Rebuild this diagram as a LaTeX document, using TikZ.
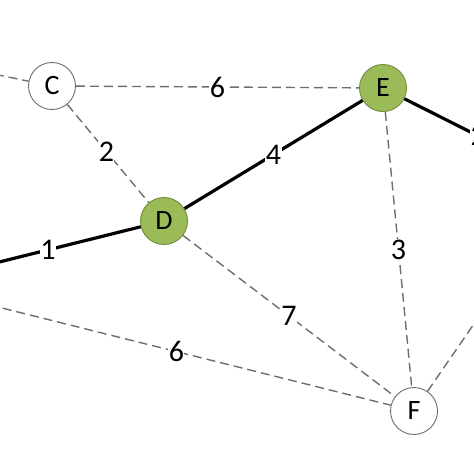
\documentclass[tikz,border=0pt]{standalone}
\usepackage{fontspec}
\setmainfont{Carlito}
\definecolor{grn}{HTML}{9BBB59}
\definecolor{grnb}{HTML}{6F8A3B}
\definecolor{dgray}{HTML}{6E6E6E}
\begin{document}
\begin{tikzpicture}[x=1pt,y=-1pt,
  vtx/.style={circle,draw=dgray,line width=0.9pt,fill=white,minimum size=47pt,inner sep=0pt,font=\fontsize{28}{28}\selectfont},
  sel/.style={vtx,fill=grn,draw=grnb},
  tree/.style={line width=3.2pt,black},
  other/.style={dgray,line width=1.4pt,dash pattern=on 9pt off 5pt},
  wt/.style={fill=white,inner sep=0.5pt,font=\fontsize{30}{30}\selectfont,text=black}]
\useasboundingbox (0,0) rectangle (474,474);
\node[vtx] (C) at (52,86) {C};
\node[sel] (E) at (383,88) {E};
\node[sel] (D) at (164,221) {D};
\node[vtx] (F) at (414,411) {F};
\coordinate (cl) at (-60,63);
\coordinate (er) at (552,173);
\coordinate (dl) at (-45,273);
\coordinate (fl) at (-38,298);
\coordinate (fr) at (520,257);
\draw[other] (cl) -- (C);
\draw[other] (C) -- node[wt] {6} (E);
\draw[other] (C) -- node[wt,pos=0.48] {2} (D);
\draw[tree] (D) -- node[wt] {4} (E);
\draw[tree] (E) -- node[wt] {2} (er);
\draw[tree] (dl) -- node[wt] {1} (D);
\draw[other] (E) -- node[wt,pos=0.5] {3} (F);
\draw[other] (D) -- node[wt,pos=0.5] {7} (F);
\draw[other] (fl) -- node[wt] {6} (F);
\draw[other] (F) -- (fr);
\end{tikzpicture}
\end{document}
